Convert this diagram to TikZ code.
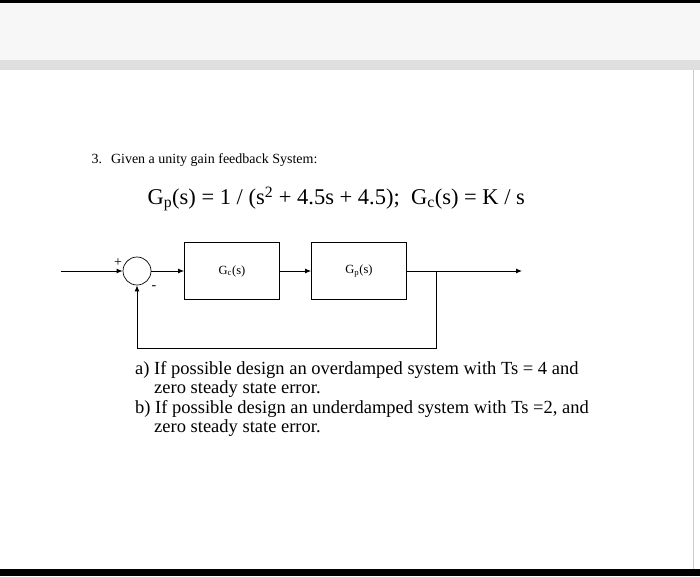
\documentclass[tikz,border=0pt]{standalone}
\usepackage{fontspec}
\usetikzlibrary{arrows.meta}
\setmainfont{Liberation Serif}
\begin{document}
\begin{tikzpicture}[x=1pt,y=-1pt,
  blk/.style={draw,line width=0.7pt,minimum width=95pt,minimum height=57pt,font=\fontsize{12.5}{14}\selectfont},
  sumc/.style={draw,circle,line width=0.7pt,minimum size=28pt,inner sep=0pt},
  ln/.style={line width=1pt},
  arr/.style={ln,-{Latex[length=6pt,width=5pt]}}]
\useasboundingbox (0,0) rectangle (700,576);
\fill[black] (0,0) rectangle (700,3);
\fill[gray!6] (0,3) rectangle (700,60);
\fill[gray!25] (0,60) rectangle (700,70);
\fill[black] (0,569) rectangle (700,576);
\draw[gray!40,line width=1pt] (693,70) -- (693,569);
\node[anchor=west,font=\fontsize{14}{16}\selectfont] (q) at (88,160) {3.\hspace{9pt}Given a unity gain feedback System:};
\node[anchor=west,font=\fontsize{22.5}{26}\selectfont] (eq) at (144,199) {G\textsubscript{p}(s) = 1 / (s\textsuperscript{2} + 4.5s + 4.5);\ \ G\textsubscript{c}(s) = K / s};
\node[sumc] (sum) at (137,271) {};
\node[blk] (gc) at (232,271) {G\textsubscript{c}(s)};
\node[blk] (gp) at (359,271) {G\textsubscript{p}(s)};
\coordinate (in) at (61,271);
\coordinate (out) at (522,271);
\coordinate (br) at (436,271);
\coordinate (bl) at (436,348);
\coordinate (fb) at (137,348);
\draw[arr] (in) -- (sum);
\draw[arr] (sum) -- (gc);
\draw[arr] (gc) -- (gp);
\draw[arr] (gp) -- (out);
\draw[arr] (br) -- (bl) -- (fb) -- (sum);
\node[font=\fontsize{14}{14}\selectfont] (plus) at (118,263) {+};
\node[font=\fontsize{14}{14}\selectfont] (minus) at (154,288) {-};
\node[anchor=north west,align=left,inner sep=0pt,font=\fontsize{18.5}{19.5}\selectfont] (items) at (135,361) {%
a) If possible design an overdamped system with Ts = 4 and\\
\hspace{19pt}zero steady state error.\\
b) If possible design an underdamped system with Ts =2, and\\
\hspace{19pt}zero steady state error.};
\end{tikzpicture}
\end{document}
